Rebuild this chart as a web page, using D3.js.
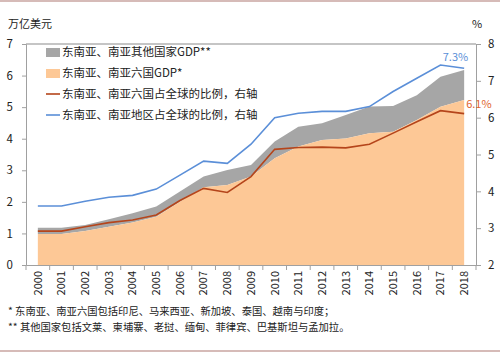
<!DOCTYPE html>
<html lang="zh">
<head>
<meta charset="utf-8">
<script src="https://d3js.org/d3.v7.min.js"></script>
<style>
  body { margin: 0; background: #fff; }
  text { font-family: "Noto Sans CJK SC", "Noto Sans", sans-serif; }
</style>
</head>
<body>
<script>
const years = ["2000","2001","2002","2003","2004","2005","2006","2007","2008","2009",
               "2010","2011","2012","2013","2014","2015","2016","2017","2018"]
// GDP, trillion USD (left axis)
const sixGdp   = [0.98,0.98,1.08,1.21,1.35,1.53,2.0,2.46,2.53,2.8,3.38,3.75,3.96,4.01,4.17,4.22,4.59,5.01,5.23]
const otherGdp = [0.20,0.20,0.19,0.24,0.29,0.32,0.33,0.34,0.48,0.37,0.53,0.63,0.53,0.74,0.85,0.82,0.79,0.95,0.95]
// share of world, % (right axis)
const sixShare    = [2.92,2.92,3.04,3.15,3.22,3.36,3.75,4.08,3.97,4.40,5.14,5.19,5.20,5.18,5.28,5.58,5.89,6.19,6.11]
const regionShare = [3.60,3.60,3.73,3.84,3.89,4.06,4.44,4.82,4.76,5.28,6.00,6.12,6.17,6.17,6.30,6.71,7.07,7.43,7.34]
const leftTicks = [0,1,2,3,4,5,6,7]
const rightTicks = [2,3,4,5,6,7,8]
const legendLabels = ["东南亚、南亚其他国家GDP**","东南亚、南亚六国GDP*","东南亚、南亚六国占全球的比例，右轴","东南亚、南亚地区占全球的比例，右轴"]
const notes = ["* 东南亚、南亚六国包括印尼、马来西亚、新加坡、泰国、越南与印度；",
               "** 其他国家包括文莱、柬埔寨、老挝、缅甸、菲律宾、巴基斯坦与孟加拉。"]

const w = 500, h = 353
const pl = 26, pr = 476, pt = 44, pb = 265   // plot box
const cGrey = "#a6a6a6", cOrange = "#fdc896", cRed = "#b5451b", cBlue = "#5b8fd8"

const svg = d3.select("body").append("svg").attr("width", w).attr("height", h)

// frame lines
svg.append("line").attr("x1", 0).attr("x2", w).attr("y1", 1).attr("y2", 1).attr("stroke", "#c9a4a0").attr("stroke-width", 1.5)
svg.append("line").attr("x1", 0).attr("x2", w).attr("y1", 351).attr("y2", 351).attr("stroke", "#c9a4a0").attr("stroke-width", 1.5)

const x = d3.scaleBand().domain(years).range([pl, pr])
const cx = d => x(d) + x.bandwidth() / 2
const yL = d3.scaleLinear().domain([0, 7]).range([pb, pt])
const yR = d3.scaleLinear().domain([2, 8]).range([pb, pt])

const rows = years.map((yr, i) => ({ yr, six: sixGdp[i], tot: sixGdp[i] + otherGdp[i] }))

svg.append("path").datum(rows)
  .attr("fill", cGrey)
  .attr("d", d3.area().x(d => cx(d.yr)).y0(d => yL(d.six)).y1(d => yL(d.tot)))
svg.append("path").datum(rows)
  .attr("fill", cOrange)
  .attr("d", d3.area().x(d => cx(d.yr)).y0(yL(0)).y1(d => yL(d.six)))

const line = d3.line().x((d, i) => cx(years[i])).y(d => yR(d))
svg.append("path").datum(sixShare).attr("fill", "none").attr("stroke", cRed).attr("stroke-width", 1.6).attr("d", line)
svg.append("path").datum(regionShare).attr("fill", "none").attr("stroke", cBlue).attr("stroke-width", 1.6).attr("d", line)

// plot top border
svg.append("line").attr("x1", pl).attr("x2", pr).attr("y1", pt).attr("y2", pt).attr("stroke", "#8c8c8c").attr("stroke-width", 1.2)

// axes
const xAxis = d3.axisBottom(x).tickSize(0).tickPadding(6)
const gx = svg.append("g").attr("transform", `translate(0,${pb})`).call(xAxis)
gx.select(".domain").attr("stroke", "#a0a0a0")
gx.selectAll("text")
  .attr("transform", "rotate(-90)")
  .attr("x", -6).attr("y", 0).attr("dy", "0.35em")
  .style("text-anchor", "end")
  .attr("font-size", 11).attr("fill", "#222")
gx.selectAll(".bd").data(years.concat(["end"])).enter().append("line")
  .attr("x1", (d, i) => pl + i * x.step()).attr("x2", (d, i) => pl + i * x.step())
  .attr("y1", 0).attr("y2", 5).attr("stroke", "#a0a0a0")

const gl = svg.append("g").attr("transform", `translate(${pl},0)`)
  .call(d3.axisLeft(yL).tickValues(leftTicks).tickFormat(d3.format("d")).tickSize(4).tickPadding(9))
gl.select(".domain").attr("stroke", "#a0a0a0")
gl.selectAll("line").attr("stroke", "#a0a0a0")
gl.selectAll("text").attr("font-size", 11.5).attr("fill", "#222")

const gr = svg.append("g").attr("transform", `translate(${pr},0)`)
  .call(d3.axisRight(yR).tickValues(rightTicks).tickFormat(d3.format("d")).tickSize(5).tickPadding(7))
gr.select(".domain").attr("stroke", "#a0a0a0")
gr.selectAll("line").attr("stroke", "#a0a0a0")
gr.selectAll("text").attr("font-size", 11.5).attr("fill", "#222")

// units
svg.append("text").attr("x", 8).attr("y", 28).attr("font-size", 11).attr("fill", "#222").text("万亿美元")
svg.append("text").attr("x", 472).attr("y", 28).attr("font-size", 11).attr("fill", "#222").text("%")

// end labels
svg.append("text").attr("x", cx("2018") + 4).attr("y", yR(regionShare[18]) - 7)
  .attr("text-anchor", "end").attr("font-size", 11).attr("fill", cBlue).text("7.3%")
svg.append("text").attr("x", cx("2018") + 2).attr("y", yR(sixShare[18]) - 6)
  .attr("font-size", 11).attr("fill", "#e0642e").text("6.1%")

// legend
const lg = svg.append("g").attr("transform", "translate(46,52)")
lg.selectAll("g").data(legendLabels).enter().append("g")
  .attr("transform", (d, i) => `translate(0,${i * 21})`)
  .each(function (d, i) {
    const g = d3.select(this)
    if (i < 2) {
      g.append("rect").attr("x", 0).attr("y", -4).attr("width", 14).attr("height", 9).attr("fill", i === 0 ? cGrey : cOrange)
    } else {
      g.append("line").attr("x1", 0).attr("x2", 14).attr("y1", 0).attr("y2", 0)
        .attr("stroke", i === 2 ? cRed : cBlue).attr("stroke-width", 1.6)
    }
    g.append("text").attr("x", 16).attr("y", 0).attr("dy", "0.35em")
      .attr("font-size", 11.5).attr("fill", "#222").text(d)
  })

// footnotes
svg.selectAll(".note").data(notes).enter().append("text")
  .attr("x", 8).attr("y", (d, i) => 315 + i * 16)
  .attr("font-size", 10.3).attr("fill", "#222").text(d => d)
</script>
</body>
</html>
